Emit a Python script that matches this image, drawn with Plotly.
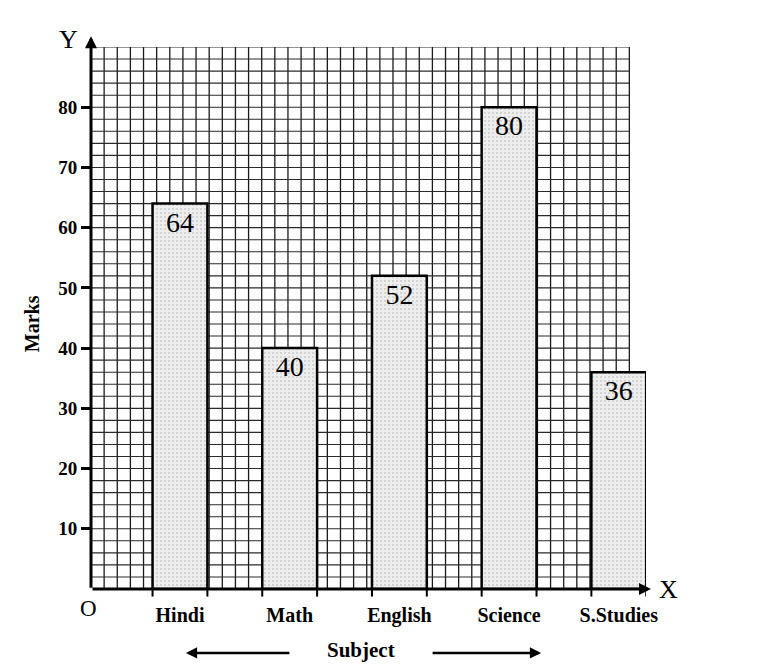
import plotly.graph_objects as go

# data
subjects = ["Hindi", "Math", "English", "Science", "S.Studies"]
marks = [64, 40, 52, 80, 36]
y_ticks = [10, 20, 30, 40, 50, 60, 70, 80]

SERIF = "Liberation Serif, Times New Roman, serif"
Y_MAX = 90

fig = go.Figure()

fig.add_trace(
    go.Bar(
        x=subjects,
        y=marks,
        width=0.5,
        text=[str(m) for m in marks],
        textposition="inside",
        insidetextanchor="end",
        textangle=0,
        textfont=dict(family=SERIF, size=28, color="black"),
        marker=dict(
            color="#e6e6e6",
            line=dict(color="black", width=2.5),
            pattern=dict(shape=".", fgcolor="#a8a8a8", bgcolor="#eeeeee", size=4, solidity=0.2),
        ),
        showlegend=False,
        hoverinfo="skip",
    )
)

# graph paper: grid stops a little short of the right edge of the plot area
grid_right = 0.97
n_cols = 41
shapes = []
for i in range(1, n_cols + 1):
    gx = i * grid_right / n_cols
    shapes.append(dict(type="line", xref="paper", yref="paper", x0=gx, x1=gx,
                       y0=0, y1=1, line=dict(color="#1a1a1a", width=1.3), layer="below"))
for v in range(2, Y_MAX + 1, 2):
    shapes.append(dict(type="line", xref="paper", yref="y", x0=0, x1=grid_right,
                       y0=v, y1=v, line=dict(color="#2a2a2a", width=1.1), layer="below"))

# small ticks at bar edges on the x axis
for i in range(len(subjects)):
    for dx in (-0.25, 0.25):
        shapes.append(dict(type="line", xref="x", yref="paper", x0=i + dx, x1=i + dx,
                           y0=0, y1=-0.014, line=dict(color="black", width=2)))

label_font = dict(family=SERIF, size=26, color="black")
annotations = [
    # axes with arrow heads
    dict(x=0, y=1.02, xref="paper", yref="paper", ax=0, ay=553, showarrow=True,
         arrowhead=2, arrowsize=0.8, arrowwidth=3, arrowcolor="black", text=""),
    dict(x=1.009, y=0, xref="paper", yref="paper", ax=-560, ay=0, showarrow=True,
         arrowhead=2, arrowsize=0.8, arrowwidth=3, arrowcolor="black", text=""),
    dict(x=-0.041, y=1.013, xref="paper", yref="paper", text="Y", showarrow=False,
         xanchor="center", yanchor="middle", font=label_font),
    dict(x=1.041, y=0.0, xref="paper", yref="paper", text="X", showarrow=False,
         xanchor="center", yanchor="middle", font=label_font),
    dict(x=-0.004, y=-0.036, xref="paper", yref="paper", text="O", showarrow=False,
         xanchor="center", yanchor="middle", font=dict(family=SERIF, size=23, color="black")),
    dict(x=-0.105, y=0.49, xref="paper", yref="paper", text="<b>Marks</b>", textangle=-90,
         xanchor="center", yanchor="middle", showarrow=False,
         font=dict(family=SERIF, size=20, color="black")),
    dict(x=0.486, y=-0.113, xref="paper", yref="paper", text="<b>Subject</b>", showarrow=False,
         xanchor="center", yanchor="middle", font=dict(family=SERIF, size=21, color="black")),
    # arrows beside "Subject"
    dict(x=0.171, y=-0.118, xref="paper", yref="paper", ax=105, ay=0, showarrow=True,
         arrowhead=2, arrowsize=0.9, arrowwidth=2.5, arrowcolor="black", text=""),
    dict(x=0.811, y=-0.118, xref="paper", yref="paper", ax=-110, ay=0, showarrow=True,
         arrowhead=2, arrowsize=0.9, arrowwidth=2.5, arrowcolor="black", text=""),
]

fig.update_layout(
    width=768,
    height=671,
    margin=dict(l=83, r=130, t=39, b=90),
    paper_bgcolor="white",
    plot_bgcolor="white",
    shapes=shapes,
    annotations=annotations,
)

fig.update_xaxes(
    type="category",
    range=[-0.811, 4.248],
    tickvals=subjects,
    ticktext=[f"<b>{s}</b>" for s in subjects],
    tickfont=dict(family=SERIF, size=20, color="black"),
    ticks="",
    ticklabelstandoff=12,
    showgrid=False,
    showline=False,
    zeroline=False,
)

fig.update_yaxes(
    range=[0, Y_MAX],
    tickvals=y_ticks,
    ticktext=[f"<b>{v}</b>" for v in y_ticks],
    tickfont=dict(family=SERIF, size=19, color="black"),
    ticks="outside",
    ticklen=9,
    tickwidth=2.5,
    tickcolor="black",
    showgrid=False,
    showline=False,
    zeroline=False,
)

fig.write_html("out.html")
